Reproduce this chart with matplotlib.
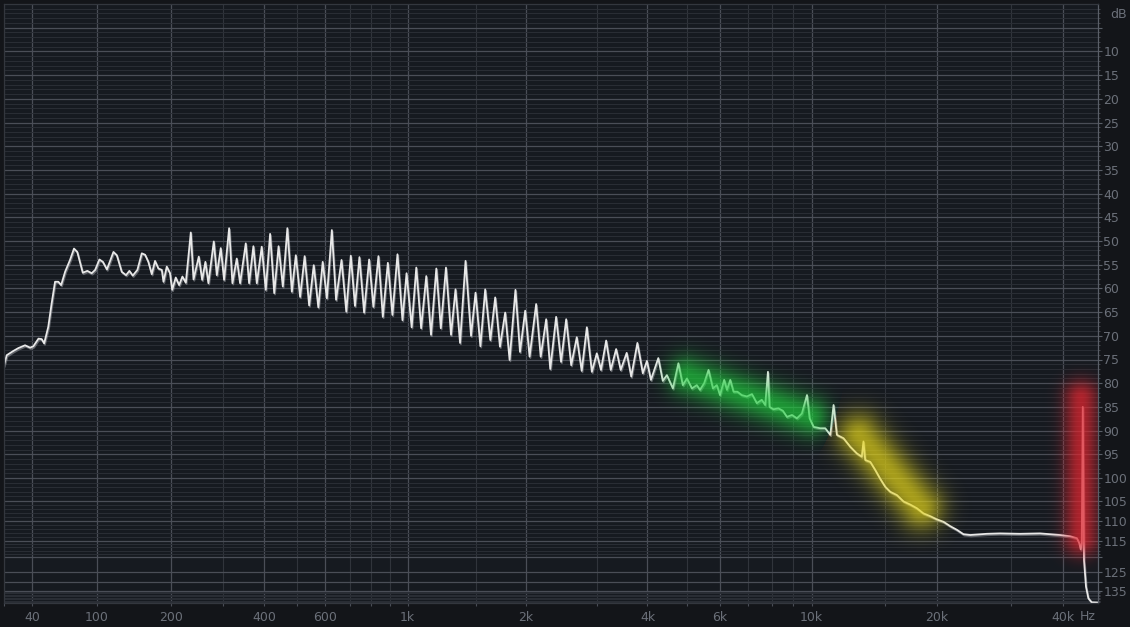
import numpy as np
import matplotlib
matplotlib.use("Agg")
import matplotlib.pyplot as plt
import matplotlib.patheffects as pe

# spektrum odcitane z obrazku: frekvencia (Hz) a uroven (dB pod nulou)
freq = [
    20, 21.8, 26.3, 29.8, 34.7, 38.5, 41, 45, 47.6, 49.6,
    53, 55.9, 58.8, 61.7, 64.2, 67.8, 72.4, 76.2, 79.4, 84.9,
    89.6, 94.2, 97.9, 102.6, 106.5, 111.1, 118.8, 122.9, 129, 134.5,
    138.8, 143.3, 149.5, 155.6, 160.3, 165, 170, 174.9, 180, 185.3,
    187.9, 193.2, 198.4, 202, 208, 213.7, 219.5, 225.5,
    234.5, 239.5, 249.5, 256, 262.4, 268.4, 279.5, 285.8, 294.3, 301.5,
    312.8, 320.3, 330.5, 338.4, 352.3, 360.6, 371.6, 380.5, 393.7, 404.7,
    416.9, 428.7, 441.5, 454.3, 468.3, 482.4, 495.3, 509.4, 524.9, 540.4,
    556.8, 573.5, 589.9, 605.7, 625.4, 642.3, 665, 685.2, 704.9, 723.5,
    743.9, 765.8, 790.1, 811, 836.8, 859.5, 886.4, 911.4, 939.9, 968.7,
    993, 1024, 1053, 1084, 1118, 1150, 1187, 1219, 1257, 1295,
    1330, 1366, 1411, 1457, 1496, 1539, 1583, 1631, 1678, 1725,
    1778, 1824, 1887, 1937, 1996, 2047, 2126, 2182, 2252, 2305,
    2384, 2452, 2525, 2598, 2682, 2758, 2840, 2922, 3005, 3077,
    3169, 3252, 3353, 3440, 3559, 3651, 3780, 3897, 3988, 4079,
    4252, 4360, 4462, 4615, 4759, 4879, 4992, 5134, 5276, 5370,
    5497, 5633, 5773, 5900, 6005, 6147, 6242, 6359, 6476, 6617,
    6780, 6978, 7176, 7373, 7578, 7724, 7843, 7913, 8090, 8310,
    8519, 8716, 8964, 9211, 9467, 9741, 9884, 10103, 10471, 10778,
    11084, 11286, 11495, 11923, 12380, 12838, 13194, 13316, 13446, 13829,
    14211, 14593, 15020, 15446, 16018, 16613, 17250, 17886, 18550, 19262,
    19973, 20715, 21508, 22302, 23129, 24014, 26325, 28290, 31583, 35261,
    39358, 41590, 43200, 43760, 44100, 44350, 44600, 44900, 45400, 46000,
    46850, 48500,
]
level = [
    76.2, 74.1, 73.2, 72.6, 72.0, 72.5, 72.2, 70.6, 70.7, 71.6,
    68.1, 63.1, 58.6, 58.6, 59.3, 56.5, 54.0, 51.6, 52.3, 56.7,
    56.3, 56.8, 56.1, 53.9, 54.4, 56.0, 52.3, 53.0, 56.5, 57.2,
    56.3, 57.3, 56.1, 52.6, 52.9, 54.4, 57.0, 54.2, 55.8, 56.1,
    58.6, 55.4, 56.8, 60.3, 57.7, 59.3, 57.5, 58.8,
    48.2, 58.1, 53.3, 58.2, 54.4, 58.9, 50.1, 57.2, 51.5, 58.2,
    47.3, 58.9, 53.7, 58.9, 50.5, 58.9, 51.1, 58.9, 51.2, 60.3,
    48.5, 61.0, 51.1, 59.6, 47.3, 60.7, 53.0, 61.8, 53.2, 63.6,
    55.1, 64.0, 54.4, 62.1, 47.7, 62.4, 54.0, 64.9, 53.1, 63.7,
    53.4, 65.1, 53.9, 63.9, 53.2, 66.0, 54.6, 65.6, 52.8, 66.7,
    56.8, 68.2, 55.6, 68.4, 57.4, 69.8, 55.8, 68.4, 55.6, 69.8,
    60.2, 71.5, 54.2, 70.0, 60.9, 72.2, 60.2, 70.9, 61.9, 72.3,
    65.1, 75.1, 60.3, 73.4, 64.7, 74.4, 63.3, 74.4, 66.5, 77.0,
    66.0, 75.5, 66.5, 76.2, 70.3, 77.4, 68.2, 77.6, 73.7, 77.2,
    71.0, 77.2, 72.8, 77.2, 73.6, 78.6, 71.5, 77.9, 75.3, 79.3,
    74.7, 79.5, 78.3, 81.1, 75.8, 80.4, 79.0, 81.1, 80.4, 81.4,
    80.0, 77.2, 81.1, 80.4, 82.5, 79.3, 81.4, 79.3, 81.8, 81.8,
    82.5, 82.8, 82.3, 84.2, 83.5, 84.6, 77.6, 85.0, 85.5, 85.3,
    85.8, 87.1, 86.7, 87.4, 86.4, 82.5, 87.4, 89.2, 89.5, 89.5,
    90.9, 84.6, 90.9, 91.6, 93.4, 94.8, 95.5, 92.3, 96.2, 96.6,
    98.3, 100.1, 101.9, 103.0, 103.7, 105.1, 105.9, 106.8, 108.1, 108.8,
    109.6, 110.2, 111.3, 112.2, 113.3, 113.5, 113.2, 113.1, 113.2, 113.1,
    113.5, 113.8, 114.3, 115.7, 117.6, 115.7, 85.0, 121.0, 132.6, 141.1,
    144.4, 144.6,
]

x_major = [40, 100, 200, 400, 600, 1000, 2000, 4000, 6000, 10000, 20000, 40000]
x_labels = ["40", "100", "200", "400", "600", "1k", "2k", "4k", "6k", "10k", "20k", "40k"]
x_minor = [20, 300, 500, 700, 800, 900, 1500, 3000, 5000, 7000, 8000, 9000, 15000, 30000]

y_major = list(range(5, 140, 5))
y_labels = ["" if v in (5, 120, 130) else str(v) for v in y_major]
y_minor = [v for v in range(1, 145) if v % 5 and (v < 120 or v > 135)]

# zvyraznene oblasti: od (Hz, dB) po (Hz, dB), farba, sirka v px, max. alfa
glows = [
    (5000, 78.5, 9900, 87.0, (0.13, 0.82, 0.25), 14, 0.68),
    (13000, 91.0, 18300, 106.5, (0.90, 0.84, 0.10), 16, 0.70),
    (44200, 83.0, 44200, 114.5, (0.88, 0.15, 0.19), 12, 0.75),
]

# stupnica analyzatora: log(f + 100), dB skoro linearne, dole stlacene
db_knots = [-50, 0, 100, 105, 110, 115, 120, 125, 130, 135, 140, 145, 200]
pos_knots = [-237, 0, 474, 497, 517, 537, 553, 568, 578, 587, 593, 599, 654]


def fwd_f(f):
    with np.errstate(invalid="ignore", divide="ignore"):
        return np.log10(np.asarray(f, float) + 100)


def inv_f(v):
    return 10 ** np.asarray(v, float) - 100


def fwd_db(d):
    return np.interp(d, db_knots, pos_knots)


def inv_db(p):
    return np.interp(p, pos_knots, db_knots)


BG = "#131519"
PLOT_BG = "#161a20"
TXT = "#6b7079"

fig = plt.figure(figsize=(11.3, 6.27), dpi=100, facecolor=BG)
ax = fig.add_axes([4 / 1130, 1 - 603 / 627, 1094 / 1130, 599 / 627])
ax.set_facecolor(PLOT_BG)

ax.set_xscale("function", functions=(fwd_f, inv_f))
ax.set_yscale("function", functions=(fwd_db, inv_db))
ax.set_xlim(20, 48500)
ax.set_ylim(145, 0)

ax.set_xticks(x_major)
ax.set_xticklabels(x_labels)
ax.set_xticks(x_minor, minor=True)
ax.set_yticks(y_major)
ax.set_yticklabels(y_labels)
ax.set_yticks(y_minor, minor=True)
ax.yaxis.tick_right()

ax.xaxis.grid(True, which="major", color="#4a4e57", lw=0.9, zorder=0)
ax.xaxis.grid(True, which="minor", color="#30343b", lw=0.8, zorder=0)
ax.yaxis.grid(True, which="major", color="#4a4e57", lw=0.9, zorder=0)
ax.yaxis.grid(True, which="minor", color="#2a2e35", lw=0.7, zorder=0)
ax.set_axisbelow(True)

ax.tick_params(axis="x", which="both", direction="out", length=2.2, width=0.8,
               color="#4a4e57", labelcolor=TXT, labelsize=9, pad=3.5)
ax.tick_params(axis="y", which="major", direction="out", length=2.8, width=0.8,
               color="#5a5f68", labelcolor=TXT, labelsize=9, pad=1)
ax.tick_params(axis="y", which="minor", direction="out", length=1.4, width=0.6,
               color="#4a4e57")

for side, sp in ax.spines.items():
    sp.set_color("#5a5f68" if side == "right" else "#33373e")
    sp.set_linewidth(0.9)

ax.plot(freq, level, color="#e8e8e8", lw=1.3, zorder=2, solid_joinstyle="round",
        path_effects=[pe.SimpleLineShadow(offset=(0.6, -1.0), shadow_color="#9a9da3",
                                          alpha=0.55), pe.Normal()])

# makke farebne ziary cez ciaru
bb = ax.bbox
W, H = int(round(bb.width)), int(round(bb.height))
PX, PY = np.meshgrid(bb.x0 + np.arange(W) + 0.5, bb.y0 + np.arange(H) + 0.5)
img = np.zeros((H, W, 4))
for f1, d1, f2, d2, col, sig, amax in glows:
    (x1, y1), (x2, y2) = ax.transData.transform([(f1, d1), (f2, d2)])
    dx, dy = x2 - x1, y2 - y1
    t = np.clip(((PX - x1) * dx + (PY - y1) * dy) / (dx * dx + dy * dy), 0, 1)
    dist = np.hypot(PX - (x1 + t * dx), PY - (y1 + t * dy))
    a = amax * np.exp(-0.5 * (dist / sig) ** 2)
    m = a > img[..., 3]
    img[m, :3] = col
    img[m, 3] = a[m]
ax.imshow(img, extent=(0, 1, 0, 1), transform=ax.transAxes, origin="lower",
          aspect="auto", interpolation="bilinear", zorder=3)
ax.set_xlim(20, 48500)
ax.set_ylim(145, 0)

fig.text(1110 / 1130, 1 - 15 / 627, "dB", color=TXT, fontsize=9, ha="left", va="center")
fig.text(1088 / 1130, 1 - 617 / 627, "Hz", color=TXT, fontsize=9, ha="center", va="center")

fig.savefig("out.png", dpi=100, facecolor=BG)
